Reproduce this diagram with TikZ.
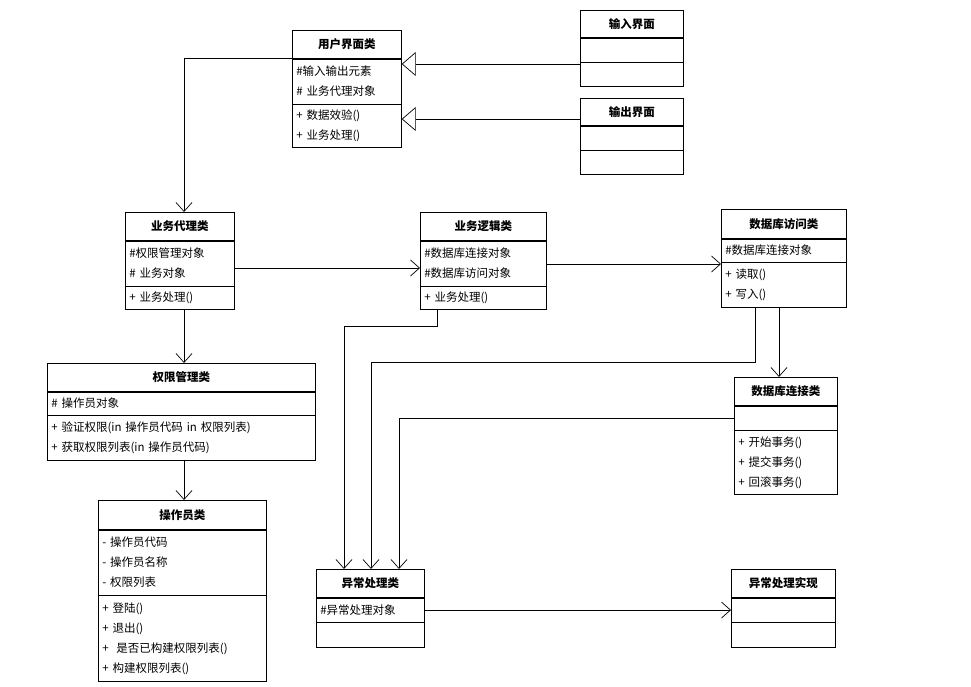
\documentclass[tikz,border=0pt]{standalone}
\usepackage{fontspec}
\setmainfont{Noto Sans CJK SC}
\usetikzlibrary{arrows.meta,positioning}
\tikzset{
  head/.style={draw, anchor=north west, inner sep=0pt, font=\bfseries\fontsize{11.5}{13}\selectfont},
  part/.style={draw, anchor=north west, inner xsep=4pt, inner ysep=0pt, align=left, font=\fontsize{11.5}{20}\selectfont},
  dep/.style={-{Straight Barb[length=9pt,width=16pt]}},
  gen/.style={-{Triangle[open,length=14pt,width=24pt]}}
}
\begin{document}
\begin{tikzpicture}[x=1pt,y=-1pt,line width=0.7pt]
\useasboundingbox (0,0) rectangle (971,687);

% user interface
\node[head, minimum width=109, minimum height=28] (ui) at (292,30) {用户界面类};
\node[part, text width=101, minimum height=45] (uiA) at (ui.south west) {\#输入输出元素\\\# 业务代理对象};
\node[part, text width=101, minimum height=43] (uiO) at (uiA.south west) {+ 数据效验()\\+ 业务处理()};

% input / output
\node[head, minimum width=103, minimum height=27] (inp) at (580,10) {输入界面};
\node[part, text width=95, minimum height=24] (inpA) at (inp.south west) {};
\node[part, text width=95, minimum height=24] (inpO) at (inpA.south west) {};
\node[head, minimum width=103, minimum height=27] (outp) at (580,98) {输出界面};
\node[part, text width=95, minimum height=24] (outpA) at (outp.south west) {};
\node[part, text width=95, minimum height=24] (outpO) at (outpA.south west) {};

% business proxy
\node[head, minimum width=109, minimum height=28] (proxy) at (125,212) {业务代理类};
\node[part, text width=101, minimum height=45] (proxyA) at (proxy.south west) {\#权限管理对象\\\# 业务对象};
\node[part, text width=101, minimum height=23] (proxyO) at (proxyA.south west) {+ 业务处理()};

% business logic
\node[head, minimum width=126, minimum height=28] (logic) at (420,212) {业务逻辑类};
\node[part, text width=118, minimum height=45] (logicA) at (logic.south west) {\#数据库连接对象\\\#数据库访问对象};
\node[part, text width=118, minimum height=23] (logicO) at (logicA.south west) {+ 业务处理()};

% db access
\node[head, minimum width=125, minimum height=29] (dba) at (721,209) {数据库访问类};
\node[part, text width=117, minimum height=23] (dbaA) at (dba.south west) {\#数据库连接对象};
\node[part, text width=117, minimum height=45] (dbaO) at (dbaA.south west) {+ 读取()\\+ 写入()};

% rights
\node[head, minimum width=268, minimum height=28] (auth) at (47,363) {权限管理类};
\node[part, text width=260, minimum height=23] (authA) at (auth.south west) {\#  操作员对象};
\node[part, text width=260, minimum height=45] (authO) at (authA.south west) {+ 验证权限(in 操作员代码 in 权限列表)\\+ 获取权限列表(in 操作员代码)};

% operator
\node[head, minimum width=168, minimum height=29] (oper) at (98,500) {操作员类};
\node[part, text width=160, minimum height=65] (operA) at (oper.south west) {- 操作员代码\\- 操作员名称\\- 权限列表};
\node[part, text width=160, minimum height=86] (operO) at (operA.south west) {+ 登陆()\\+ 退出()\\+ \ 是否已构建权限列表()\\+ 构建权限列表()};

% db connection
\node[head, minimum width=103, minimum height=28] (dbc) at (734,377) {数据库连接类};
\node[part, text width=95, minimum height=24] (dbcA) at (dbc.south west) {};
\node[part, text width=95, minimum height=64] (dbcO) at (dbcA.south west) {+ 开始事务()\\+ 提交事务()\\+ 回滚事务()};

% exception
\node[head, minimum width=108, minimum height=28] (exc) at (316,569) {异常处理类};
\node[part, text width=100, minimum height=24] (excA) at (exc.south west) {\#异常处理对象};
\node[part, text width=100, minimum height=25] (excO) at (excA.south west) {};
\node[head, minimum width=104, minimum height=28] (impl) at (731,569) {异常处理实现};
\node[part, text width=96, minimum height=24] (implA) at (impl.south west) {};
\node[part, text width=96, minimum height=25] (implO) at (implA.south west) {};

% connectors
\draw[gen] (inpO.west |- 0,64) -- (uiA.east |- 0,64);
\draw[gen] (outpA.west |- 0,119) -- (uiO.east |- 0,119);
\draw[dep] (ui.south west) -| (proxy.north -| 184,0);
\draw[dep] (proxyA.east |- 0,268) -- (logicA.west |- 0,268);
\draw[dep] (logicA.east |- 0,264) -- (dbaA.west |- 0,264);
\draw[dep] (proxyO.south -| 184,0) -- (auth.north -| 184,0);
\draw[dep] (authO.south -| 184,0) -- (oper.north -| 184,0);
\draw[dep] (dbaO.south -| 779,0) -- (dbc.north -| 779,0);
\draw[dep] (logicO.south -| 437,0) |- (344,326) -- (exc.north -| 344,0);
\draw[dep] (dbaO.south -| 755,0) |- (371,362) -- (exc.north -| 371,0);
\draw[dep] (dbcA.west) -| (exc.north -| 399,0);
\draw[dep] (excA.east) -- (implA.west);

\end{tikzpicture}
\end{document}
